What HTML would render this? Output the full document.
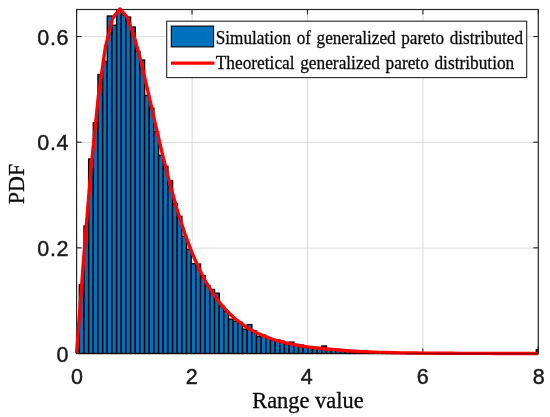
<!DOCTYPE html>
<html lang="en">
<head>
<meta charset="utf-8">
<title>Generalized pareto PDF</title>
<style>
html,body{margin:0;padding:0;background:#fff;}
body{width:550px;height:417px;overflow:hidden;}
svg{display:block;}
.sans{font-family:"Liberation Sans",Arial,sans-serif;font-size:22.6px;fill:#1a1a1a;stroke:#1a1a1a;stroke-width:0.45px;}
.serif{font-family:"Liberation Serif","Times New Roman",serif;fill:#0a0a0a;stroke:#0a0a0a;stroke-width:0.3px;}
</style>
</head>
<body>
<svg width="550" height="417" viewBox="0 0 550 417">
<defs><clipPath id="ax2"><rect x="74.1" y="6.5" width="464.8999999999999" height="350.0"/></clipPath><clipPath id="ax"><rect x="76.6" y="9.5" width="461.69999999999993" height="345.0"/></clipPath></defs>
<rect x="0" y="0" width="550" height="417" fill="#ffffff"/>
<g stroke="#dcdcdc" stroke-width="1" fill="none">
<line x1="192.12" y1="9.5" x2="192.12" y2="353.5"/>
<line x1="307.55" y1="9.5" x2="307.55" y2="353.5"/>
<line x1="422.98" y1="9.5" x2="422.98" y2="353.5"/>
<line x1="76.6" y1="248.1" x2="538.3" y2="248.1"/>
<line x1="76.6" y1="142.5" x2="538.3" y2="142.5"/>
<line x1="76.6" y1="36.5" x2="538.3" y2="36.5"/>
</g>
<rect x="76.6" y="9.5" width="461.69999999999993" height="344.0" fill="none" stroke="#262626" stroke-width="1.2"/>
<g stroke="#262626" stroke-width="1.1" fill="none">
<line x1="76.60" y1="353.5" x2="76.60" y2="348.5"/>
<line x1="76.60" y1="9.5" x2="76.60" y2="14.5"/>
<line x1="192.02" y1="353.5" x2="192.02" y2="348.5"/>
<line x1="192.02" y1="9.5" x2="192.02" y2="14.5"/>
<line x1="307.45" y1="353.5" x2="307.45" y2="348.5"/>
<line x1="307.45" y1="9.5" x2="307.45" y2="14.5"/>
<line x1="422.88" y1="353.5" x2="422.88" y2="348.5"/>
<line x1="422.88" y1="9.5" x2="422.88" y2="14.5"/>
<line x1="538.30" y1="353.5" x2="538.30" y2="348.5"/>
<line x1="538.30" y1="9.5" x2="538.30" y2="14.5"/>
<line x1="76.6" y1="353.50" x2="81.6" y2="353.50"/>
<line x1="538.3" y1="353.50" x2="533.3" y2="353.50"/>
<line x1="76.6" y1="247.84" x2="81.6" y2="247.84"/>
<line x1="538.3" y1="247.84" x2="533.3" y2="247.84"/>
<line x1="76.6" y1="142.18" x2="81.6" y2="142.18"/>
<line x1="538.3" y1="142.18" x2="533.3" y2="142.18"/>
<line x1="76.6" y1="36.52" x2="81.6" y2="36.52"/>
<line x1="538.3" y1="36.52" x2="533.3" y2="36.52"/>
</g>
<g clip-path="url(#ax)">
<g fill="#0072bd" stroke="#000000" stroke-width="1.4" stroke-linejoin="miter">
<rect x="76.60" y="334.83" width="2.72" height="18.67"/>
<rect x="79.32" y="284.83" width="4.66" height="68.67"/>
<rect x="83.99" y="226.04" width="4.66" height="127.46"/>
<rect x="88.65" y="159.09" width="4.66" height="194.41"/>
<rect x="93.31" y="122.69" width="4.66" height="230.81"/>
<rect x="97.98" y="74.56" width="4.66" height="278.94"/>
<rect x="102.64" y="61.35" width="4.66" height="292.15"/>
<rect x="107.30" y="16.02" width="4.66" height="337.48"/>
<rect x="111.97" y="25.27" width="4.66" height="328.23"/>
<rect x="116.63" y="10.63" width="4.66" height="342.87"/>
<rect x="121.29" y="14.86" width="4.66" height="338.64"/>
<rect x="125.96" y="17.08" width="4.66" height="336.42"/>
<rect x="130.62" y="27.01" width="4.66" height="326.49"/>
<rect x="135.28" y="51.31" width="4.66" height="302.19"/>
<rect x="139.95" y="60.03" width="4.66" height="293.47"/>
<rect x="144.61" y="95.48" width="4.66" height="258.02"/>
<rect x="149.27" y="108.21" width="4.66" height="245.29"/>
<rect x="153.93" y="131.83" width="4.66" height="221.67"/>
<rect x="158.60" y="155.49" width="4.66" height="198.01"/>
<rect x="163.26" y="166.38" width="4.66" height="187.12"/>
<rect x="167.92" y="180.90" width="4.66" height="172.60"/>
<rect x="172.59" y="203.62" width="4.66" height="149.88"/>
<rect x="177.25" y="216.41" width="4.66" height="137.09"/>
<rect x="181.91" y="236.38" width="4.66" height="117.12"/>
<rect x="186.58" y="249.42" width="4.66" height="104.08"/>
<rect x="191.24" y="263.69" width="4.66" height="89.81"/>
<rect x="195.90" y="264.11" width="4.66" height="89.39"/>
<rect x="200.57" y="275.89" width="4.66" height="77.61"/>
<rect x="205.23" y="285.71" width="4.66" height="67.79"/>
<rect x="209.89" y="289.52" width="4.66" height="63.98"/>
<rect x="214.56" y="293.22" width="4.66" height="60.28"/>
<rect x="219.22" y="305.95" width="4.66" height="47.55"/>
<rect x="223.88" y="311.06" width="4.66" height="42.44"/>
<rect x="228.55" y="319.21" width="4.66" height="34.29"/>
<rect x="233.21" y="321.38" width="4.66" height="32.12"/>
<rect x="237.87" y="322.33" width="4.66" height="31.17"/>
<rect x="242.53" y="329.20" width="4.66" height="24.30"/>
<rect x="247.20" y="324.60" width="4.66" height="28.90"/>
<rect x="251.86" y="331.01" width="4.66" height="22.49"/>
<rect x="256.52" y="336.49" width="4.66" height="17.01"/>
<rect x="261.19" y="335.16" width="4.66" height="18.34"/>
<rect x="265.85" y="338.18" width="4.66" height="15.32"/>
<rect x="270.51" y="339.68" width="4.66" height="13.82"/>
<rect x="275.18" y="339.92" width="4.66" height="13.58"/>
<rect x="279.84" y="341.33" width="4.66" height="12.17"/>
<rect x="284.50" y="342.60" width="4.66" height="10.90"/>
<rect x="289.17" y="342.14" width="4.66" height="11.36"/>
<rect x="293.83" y="345.11" width="4.66" height="8.39"/>
<rect x="298.49" y="345.05" width="4.66" height="8.45"/>
<rect x="303.16" y="346.86" width="4.66" height="6.64"/>
<rect x="307.82" y="347.01" width="4.66" height="6.49"/>
<rect x="312.48" y="348.65" width="4.66" height="4.85"/>
<rect x="317.15" y="348.61" width="4.66" height="4.89"/>
<rect x="321.81" y="346.00" width="4.66" height="7.50"/>
<rect x="326.47" y="349.37" width="4.66" height="4.13"/>
<rect x="331.14" y="349.37" width="4.66" height="4.13"/>
<rect x="335.80" y="349.49" width="4.66" height="4.01"/>
<rect x="340.46" y="350.14" width="4.66" height="3.36"/>
<rect x="345.12" y="351.39" width="4.66" height="2.11"/>
<rect x="349.79" y="351.57" width="4.66" height="1.93"/>
<rect x="354.45" y="351.73" width="4.66" height="1.77"/>
<rect x="359.11" y="351.87" width="4.66" height="1.63"/>
<rect x="363.78" y="352.00" width="4.66" height="1.50"/>
<rect x="368.44" y="352.12" width="4.66" height="1.38"/>
<rect x="373.10" y="352.23" width="4.66" height="1.27"/>
<rect x="377.77" y="352.33" width="4.66" height="1.17"/>
<rect x="382.43" y="352.42" width="4.66" height="1.08"/>
<rect x="387.09" y="352.51" width="4.66" height="0.99"/>
<rect x="391.76" y="352.58" width="4.66" height="0.92"/>
<rect x="396.42" y="352.65" width="4.66" height="0.85"/>
<rect x="401.08" y="352.71" width="4.66" height="0.79"/>
<rect x="405.75" y="352.77" width="4.66" height="0.73"/>
<rect x="410.41" y="352.82" width="4.66" height="0.68"/>
<rect x="415.07" y="352.87" width="4.66" height="0.63"/>
<rect x="419.74" y="352.92" width="4.66" height="0.58"/>
<rect x="424.40" y="352.96" width="4.66" height="0.54"/>
<rect x="429.06" y="353.00" width="4.66" height="0.50"/>
<rect x="433.72" y="353.03" width="4.66" height="0.47"/>
<rect x="438.39" y="353.06" width="4.66" height="0.44"/>
<rect x="443.05" y="353.09" width="4.66" height="0.41"/>
<rect x="536.31" y="349.91" width="1.99" height="3.59"/>
</g>
</g>
<g clip-path="url(#ax2)">
<path d="M76.60,353.50 L83.81,256.52 L91.03,168.68 L98.24,97.32 L105.46,46.80 L112.67,18.13 L119.88,8.94 L127.10,17.23 L134.31,36.85 L141.53,63.99 L148.74,94.88 L155.95,126.67 L163.17,157.36 L170.38,185.75 L177.60,211.21 L184.81,233.53 L192.02,252.77 L199.24,269.15 L206.45,282.98 L213.67,294.57 L220.88,304.24 L228.10,312.29 L235.31,318.97 L242.52,324.52 L249.74,329.13 L256.95,332.96 L264.17,336.14 L271.38,338.80 L278.59,341.01 L285.81,342.86 L293.02,344.41 L300.24,345.72 L307.45,346.82 L314.66,347.75 L321.88,348.53 L329.09,349.20 L336.31,349.77 L343.52,350.45 L350.73,351.00 L357.95,351.44 L365.16,351.81 L372.38,352.10 L379.59,352.34 L386.80,352.54 L394.02,352.70 L401.23,352.84 L408.45,352.95 L415.66,353.04 L422.88,353.11 L430.09,353.17 L437.30,353.23 L444.52,353.27 L451.73,353.31 L458.95,353.34 L466.16,353.36 L473.37,353.38 L480.59,353.40 L487.80,353.41 L495.02,353.43 L502.23,353.44 L509.44,353.45 L516.66,353.45 L523.87,353.46 L531.09,353.47 L538.30,353.47" fill="none" stroke="#ff0000" stroke-width="3.4" stroke-linejoin="round" stroke-linecap="butt"/>
</g>
<line x1="346.6" y1="353.7" x2="406.6" y2="353.7" stroke="#000" stroke-width="1" opacity="0.3"/>
<line x1="406.6" y1="353.7" x2="538.9" y2="353.7" stroke="#000" stroke-width="1.1" opacity="0.6"/>
<line x1="538.3" y1="345.5" x2="538.3" y2="354.1" stroke="#262626" stroke-width="1.2"/>
<g class="sans">
<text transform="translate(77.00,384.3) scale(0.95,1)" text-anchor="middle">0</text>
<text transform="translate(191.72,384.3) scale(0.95,1)" text-anchor="middle">2</text>
<text transform="translate(306.75,384.3) scale(0.95,1)" text-anchor="middle">4</text>
<text transform="translate(422.68,384.3) scale(0.95,1)" text-anchor="middle">6</text>
<text transform="translate(538.70,384.3) scale(0.95,1)" text-anchor="middle">8</text>
<text transform="translate(69.3,361.60) scale(0.95,1)" letter-spacing="0.8" text-anchor="end">0</text>
<text transform="translate(69.3,255.94) scale(0.95,1)" letter-spacing="0.8" text-anchor="end">0.2</text>
<text transform="translate(69.3,150.28) scale(0.95,1)" letter-spacing="0.8" text-anchor="end">0.4</text>
<text transform="translate(69.3,44.62) scale(0.95,1)" letter-spacing="0.8" text-anchor="end">0.6</text>
</g>
<text class="serif" x="252.2" y="407.9" font-size="22.6" textLength="111.4" lengthAdjust="spacingAndGlyphs">Range value</text>
<text class="serif" transform="translate(23.6,204.2) rotate(-90)" font-size="23" textLength="40.3" lengthAdjust="spacingAndGlyphs">PDF</text>
<g>
<rect x="166.7" y="21.2" width="360" height="56.4" fill="#ffffff" stroke="#262626" stroke-width="1.1"/>
<rect x="171.3" y="26.1" width="42.3" height="20.8" fill="#0072bd" stroke="#000" stroke-width="1.1"/>
<line x1="171" y1="63.2" x2="214.4" y2="63.2" stroke="#ff0000" stroke-width="3.3"/>
<text class="serif" transform="translate(215.8,43.8) scale(0.885,1)" font-size="19.4" word-spacing="1.5">Simulation of generalized pareto distributed</text>
<text class="serif" transform="translate(215.8,69.1) scale(0.892,1)" font-size="19.4" word-spacing="1.5">Theoretical generalized pareto distribution</text>
</g>
</svg>
</body>
</html>
